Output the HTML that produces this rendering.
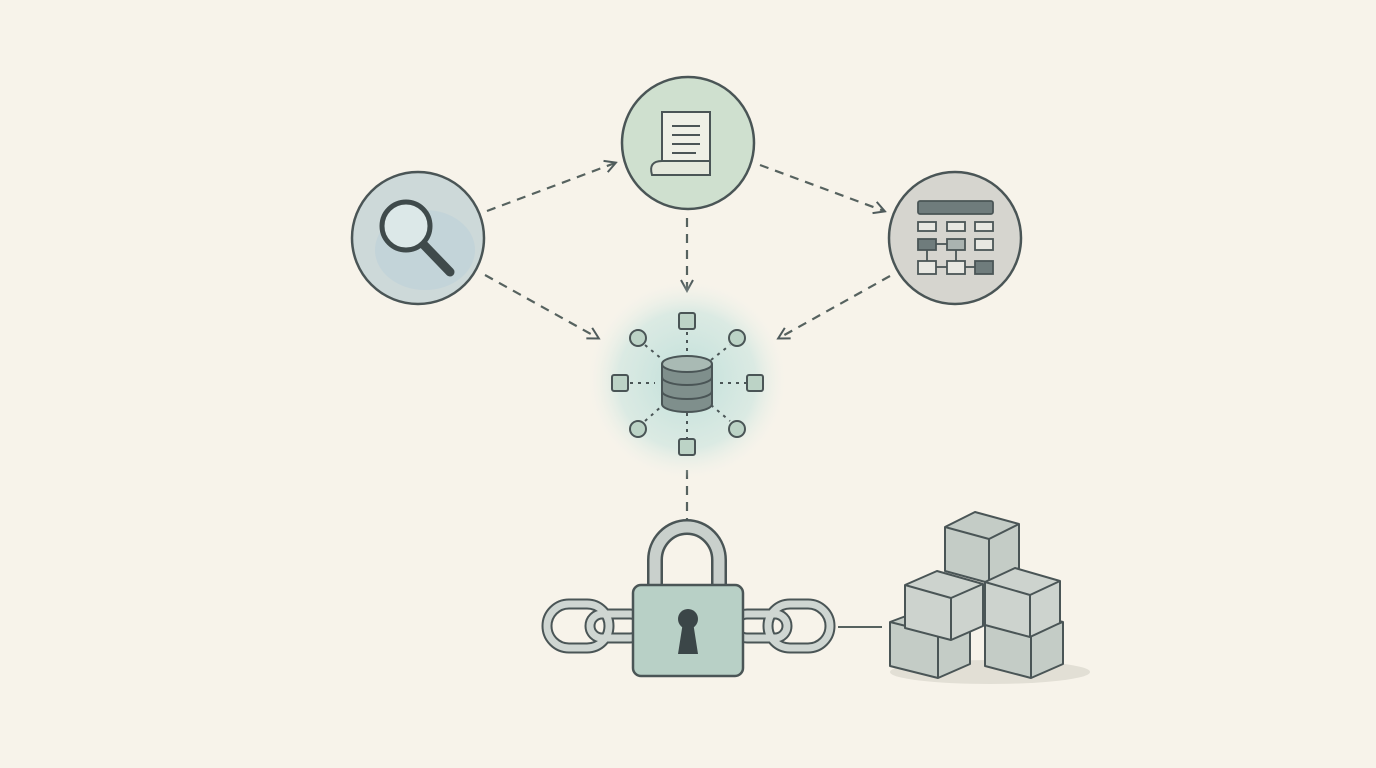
<!DOCTYPE html>
<html><head><meta charset="utf-8"><style>
html,body{margin:0;padding:0;background:#f7f3ea;}
svg{display:block}
</style></head><body>
<svg width="1376" height="768" viewBox="0 0 1376 768" xmlns="http://www.w3.org/2000/svg">
<defs>
<radialGradient id="glow" cx="50%" cy="50%" r="50%">
<stop offset="0" stop-color="#b9ddd8" stop-opacity="0.9"/>
<stop offset="0.7" stop-color="#cfe6e0" stop-opacity="0.7"/>
<stop offset="1" stop-color="#e8f0e8" stop-opacity="0"/>
</radialGradient>
<marker id="ah" markerWidth="14" markerHeight="14" refX="11" refY="7" orient="auto" markerUnits="userSpaceOnUse">
<path d="M1,1 L12,7 L1,13" fill="none" stroke="#4f5b5c" stroke-width="2"/>
</marker>
</defs>
<rect width="1376" height="768" fill="#f7f3ea"/>
<g stroke="#56625f" stroke-width="2.2" stroke-dasharray="9 7" fill="none" marker-end="url(#ah)">
<line x1="487" y1="211" x2="615" y2="163"/>
<line x1="760" y1="165" x2="884" y2="211"/>
<line x1="687" y1="218" x2="687" y2="290"/>
<line x1="485" y1="275" x2="598" y2="338"/>
<line x1="890" y1="276" x2="779" y2="338"/>
</g>
<line x1="687" y1="470" x2="687" y2="520" stroke="#56625f" stroke-width="2.2" stroke-dasharray="9 7"/>
<line x1="838" y1="627" x2="882" y2="627" stroke="#56625f" stroke-width="2"/>
<!-- magnifier -->
<circle cx="418" cy="238" r="66" fill="#cdd9d9" stroke="#4a5556" stroke-width="2.5"/>
<ellipse cx="425" cy="250" rx="50" ry="40" fill="#bcd0d8" opacity="0.6"/>
<circle cx="406" cy="226" r="24" fill="#dce8e8" stroke="#3f4a4b" stroke-width="5"/>
<line x1="424" y1="245" x2="450" y2="272" stroke="#3f4a4b" stroke-width="9" stroke-linecap="round"/>
<!-- scroll -->
<circle cx="688" cy="143" r="66" fill="#cfe0cf" stroke="#4a5556" stroke-width="2.5"/>
<path d="M662,112 h48 v62 h-52 q8,-4 4,-12 z" fill="#eef0e6" stroke="#4a5556" stroke-width="2"/>
<path d="M652,175 q-4,-14 10,-14 h48 v14 z" fill="#e4e8dc" stroke="#4a5556" stroke-width="2"/>
<g stroke="#4a5556" stroke-width="2"><line x1="672" y1="126" x2="700" y2="126"/><line x1="672" y1="135" x2="700" y2="135"/><line x1="672" y1="144" x2="700" y2="144"/><line x1="672" y1="153" x2="696" y2="153"/></g>
<!-- table -->
<circle cx="955" cy="238" r="66" fill="#d6d5cf" stroke="#4a5556" stroke-width="2.5"/>
<g stroke="#4a5556" stroke-width="1.8">
<rect x="918" y="201" width="75" height="13" rx="2" fill="#6f7c7c"/>
<rect x="918" y="222" width="18" height="9" fill="#e8e8e2"/><rect x="947" y="222" width="18" height="9" fill="#e8e8e2"/><rect x="975" y="222" width="18" height="9" fill="#e8e8e2"/>
<rect x="918" y="239" width="18" height="11" fill="#6f7c7c"/><rect x="947" y="239" width="18" height="11" fill="#aab3b0"/><rect x="975" y="239" width="18" height="11" fill="#e8e8e2"/>
<rect x="918" y="261" width="18" height="13" fill="#e8e8e2"/><rect x="947" y="261" width="18" height="13" fill="#e8e8e2"/><rect x="975" y="261" width="18" height="13" fill="#6f7c7c"/>
<line x1="936" y1="244" x2="947" y2="244"/><line x1="927" y1="250" x2="927" y2="261"/><line x1="956" y1="250" x2="956" y2="261"/><line x1="936" y1="267" x2="947" y2="267"/><line x1="965" y1="267" x2="975" y2="267"/>
</g>
<!-- hub -->
<circle cx="687" cy="380" r="98" fill="url(#glow)"/>
<g stroke="#4a5556" stroke-width="2">
<g stroke-dasharray="3 5">
<line x1="687" y1="332" x2="687" y2="355"/><line x1="687" y1="405" x2="687" y2="438"/>
<line x1="630" y1="383" x2="655" y2="383"/><line x1="720" y1="383" x2="746" y2="383"/>
<line x1="645" y1="345" x2="663" y2="360"/><line x1="711" y1="360" x2="730" y2="345"/>
<line x1="645" y1="421" x2="663" y2="405"/><line x1="711" y1="405" x2="730" y2="421"/>
</g>
<rect x="679" y="313" width="16" height="16" rx="2" fill="#bcd3c6"/>
<rect x="679" y="439" width="16" height="16" rx="2" fill="#bcd3c6"/>
<rect x="612" y="375" width="16" height="16" rx="2" fill="#bcd3c6"/>
<rect x="747" y="375" width="16" height="16" rx="2" fill="#bcd3c6"/>
<circle cx="638" cy="338" r="8" fill="#bcd3c6"/><circle cx="737" cy="338" r="8" fill="#bcd3c6"/>
<circle cx="638" cy="429" r="8" fill="#bcd3c6"/><circle cx="737" cy="429" r="8" fill="#bcd3c6"/>
<path d="M662,364 v40 a25,8 0 0 0 50,0 v-40" fill="#7f8f8c"/>
<ellipse cx="687" cy="364" rx="25" ry="8" fill="#a9bab4"/>
<path d="M662,377 a25,8 0 0 0 50,0 M662,391 a25,8 0 0 0 50,0" fill="none"/>
</g>
<!-- chains -->
<g fill="none" stroke="#4a5556" stroke-width="11">
<rect x="547" y="604" width="62" height="44" rx="22"/>
<rect x="590" y="614" width="52" height="24" rx="12"/>
<rect x="735" y="614" width="52" height="24" rx="12"/>
<rect x="768" y="604" width="62" height="44" rx="22"/>
</g>
<g fill="none" stroke="#cfd6d2" stroke-width="7">
<rect x="547" y="604" width="62" height="44" rx="22"/>
<rect x="590" y="614" width="52" height="24" rx="12"/>
<rect x="735" y="614" width="52" height="24" rx="12"/>
<rect x="768" y="604" width="62" height="44" rx="22"/>
</g>
<!-- lock -->
<path d="M655,590 v-30 a32,33 0 0 1 64,0 v30" fill="none" stroke="#4a5556" stroke-width="16"/>
<path d="M655,590 v-30 a32,33 0 0 1 64,0 v30" fill="none" stroke="#c9d0cc" stroke-width="11"/>
<rect x="633" y="585" width="110" height="91" rx="8" fill="#b8d0c6" stroke="#4a5556" stroke-width="2.5"/>
<circle cx="688" cy="619" r="10" fill="#3b4648"/>
<path d="M683,622 L678,654 h20 L693,622 z" fill="#3b4648"/>
<!-- cubes -->
<ellipse cx="990" cy="672" rx="100" ry="12" fill="#d9d6cc" opacity="0.7"/>
<g stroke="#4a5556" stroke-width="2" stroke-linejoin="round">
<path d="M945,527 l30,-15 l44,12 v44 l-30,15 l-44,-12 z" fill="#c4ccc6"/>
<path d="M945,527 l44,12 l30,-15" fill="none"/><line x1="989" y1="539" x2="989" y2="583"/>
<path d="M890,622 l32,-12 l48,12 v42 l-32,14 l-48,-12 z" fill="#c4ccc6"/>
<path d="M890,622 l48,12 l32,-12" fill="none"/><line x1="938" y1="634" x2="938" y2="678"/>
<path d="M985,622 l30,-12 l48,12 v42 l-32,14 l-46,-12 z" fill="#c4ccc6"/>
<path d="M985,622 l46,12 l32,-12" fill="none"/><line x1="1031" y1="634" x2="1031" y2="678"/>
<path d="M905,585 l32,-14 l46,13 v42 l-32,14 l-46,-12 z" fill="#cdd3ce"/>
<path d="M905,585 l46,13 l32,-14" fill="none"/><line x1="951" y1="598" x2="951" y2="640"/>
<path d="M985,582 l30,-14 l45,13 v42 l-30,14 l-45,-12 z" fill="#cdd3ce"/>
<path d="M985,582 l45,13 l30,-14" fill="none"/><line x1="1030" y1="595" x2="1030" y2="637"/>
</g>
</svg>
</body></html>
